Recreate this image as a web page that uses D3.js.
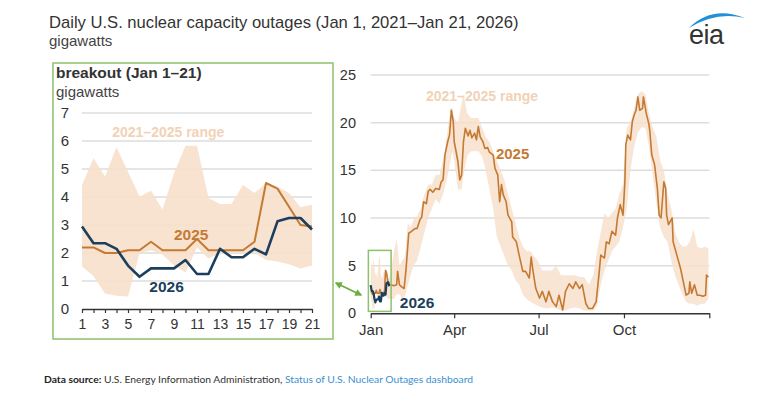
<!DOCTYPE html>
<html>
<head>
<meta charset="utf-8">
<script src="https://cdn.jsdelivr.net/npm/d3@7"></script>
<style>
  body { margin: 0; background: #fff; }
  svg { display: block; font-family: "Liberation Sans", Arial, sans-serif; }
</style>
</head>
<body>
<div class="canvas"></div>
<script>
// breakout panel, Jan 1-21
const breakoutDays = [1, 2, 3, 4, 5, 6, 7, 8, 9, 10, 11, 12, 13, 14, 15, 16, 17, 18, 19, 20, 21];
const breakout2025 = [2.2, 2.2, 2.0, 2.0, 2.1, 2.1, 2.4, 2.1, 2.1, 2.1, 2.5, 2.1, 2.1, 2.1, 2.1, 2.4, 4.5, 4.3, 3.65, 3.0, 2.95];
const breakout2026 = [2.95, 2.35, 2.35, 2.15, 1.55, 1.15, 1.45, 1.45, 1.45, 1.75, 1.25, 1.25, 2.15, 1.85, 1.85, 2.15, 1.95, 3.13, 3.25, 3.25, 2.84];
const breakoutHi = [4.43, 5.38, 4.73, 5.79, 4.9, 4.02, 4.22, 3.55, 4.85, 5.83, 5.83, 3.96, 3.75, 3.75, 4.43, 4.14, 4.49, 4.37, 4.14, 3.63, 3.72];
const breakoutLo = [1.52, 1.18, 0.55, 0.47, 0.45, 2.0, 2.1, 1.95, 1.55, 1.3, 2.2, 1.8, 2.0, 2.0, 2.0, 2.0, 1.75, 1.7, 1.6, 1.45, 1.55];

// full year panel, day of year (0 = Jan 1), readings after the breakout window
const yearDays2025 = [22, 25, 28, 29, 31, 33, 36, 38, 41, 44, 48, 50, 53, 55, 57, 60, 62, 64, 67, 70, 74, 76, 78, 80, 83, 85, 87, 89, 90, 92, 94, 96, 98, 100, 102, 105, 107, 109, 112, 114, 116, 118, 121, 123, 126, 128, 132, 134, 137, 139, 141, 143, 146, 148, 152, 153, 157, 160, 164, 167, 171, 173, 175, 178, 182, 185, 189, 192, 196, 200, 203, 207, 210, 214, 218, 221, 225, 228, 232, 235, 239, 243, 246, 248, 252, 254, 257, 260, 264, 266, 269, 272, 274, 275, 277, 280, 282, 284, 286, 288, 290, 293, 294, 297, 300, 301, 303, 306, 309, 311, 313, 316, 318, 319, 321, 325, 326, 330, 334, 337, 340, 343, 344, 346, 349, 352, 355, 358, 361, 362, 364];
const year2025 = [3.0, 2.9, 3.0, 4.4, 3.0, 2.8, 2.6, 4.5, 8.4, 8.6, 8.9, 8.9, 9.8, 10.1, 11.7, 11.5, 12.8, 13.0, 12.7, 13.1, 13.0, 13.8, 14.0, 16.6, 18.0, 18.7, 21.3, 20.1, 18.0, 17.0, 15.9, 14.0, 14.5, 18.0, 19.4, 18.6, 19.2, 18.4, 18.9, 18.2, 19.6, 18.5, 18.0, 17.3, 17.4, 16.9, 16.6, 15.2, 14.5, 11.7, 13.5, 12.4, 11.7, 10.3, 9.6, 8.0, 7.5, 6.1, 4.4, 4.4, 3.7, 5.9, 4.4, 2.6, 1.6, 2.3, 1.2, 2.3, 1.2, 0.7, 1.9, 0.35, 2.3, 3.1, 2.6, 3.3, 2.6, 3.0, 1.0, 0.5, 0.5, 1.2, 4.0, 6.1, 5.8, 7.5, 7.3, 8.6, 8.2, 10.0, 11.4, 10.3, 13.8, 17.7, 18.7, 18.2, 20.1, 20.8, 21.3, 22.7, 21.3, 21.5, 22.7, 21.0, 19.8, 19.0, 16.6, 15.6, 13.1, 10.3, 10.0, 13.8, 13.1, 10.3, 9.3, 10.0, 7.5, 6.1, 4.7, 3.3, 1.9, 2.1, 3.3, 2.1, 3.0, 1.9, 1.9, 1.8, 1.9, 4.0, 3.8];
const bandDays = [22, 25, 28, 31, 34, 37, 40, 43, 46, 50, 54, 58, 62, 66, 70, 74, 78, 82, 86, 88, 90, 94, 98, 100, 104, 108, 112, 116, 120, 124, 128, 132, 136, 140, 144, 148, 152, 156, 160, 164, 168, 172, 176, 180, 185, 190, 195, 200, 205, 210, 215, 220, 225, 230, 235, 240, 244, 248, 252, 256, 260, 264, 268, 272, 276, 280, 284, 288, 292, 296, 300, 304, 308, 312, 316, 320, 324, 328, 332, 336, 340, 344, 348, 352, 356, 360, 364];
const bandHi = [4.5, 6.5, 7.8, 5.0, 5.5, 6.0, 9.5, 9.0, 9.8, 10.2, 11.0, 12.5, 13.5, 13.5, 14.5, 14.5, 16.0, 18.5, 21.5, 21.5, 20.5, 20.0, 22.0, 23.0, 21.0, 20.5, 20.5, 20.5, 19.5, 18.5, 18.0, 17.0, 16.0, 15.0, 14.0, 12.5, 11.0, 9.5, 8.0, 7.0, 6.5, 6.5, 6.0, 5.5, 4.5, 4.5, 4.5, 5.0, 4.0, 4.0, 4.0, 4.0, 3.8, 3.8, 3.0, 4.0, 6.5, 8.5, 10.5, 10.0, 10.5, 11.0, 12.5, 13.5, 19.5, 20.0, 21.5, 23.0, 23.3, 23.0, 21.0, 19.5, 18.5, 16.0, 15.0, 12.5, 11.0, 8.5, 7.5, 7.0, 7.0, 7.5, 8.8, 7.0, 6.8, 7.0, 6.8];
const bandLo = [1.5, 1.5, 2.0, 2.0, 1.5, 1.8, 3.0, 4.0, 5.0, 5.5, 7.0, 8.5, 10.0, 11.0, 12.0, 11.5, 12.5, 14.0, 16.0, 17.0, 16.0, 13.0, 13.0, 14.5, 16.5, 17.0, 17.0, 17.0, 16.5, 15.0, 13.0, 11.0, 8.0, 7.0, 6.0, 5.0, 4.5, 3.5, 3.0, 2.0, 1.5, 1.2, 1.0, 0.8, 0.6, 0.5, 0.6, 0.5, 0.3, 0.3, 0.5, 0.6, 0.5, 0.3, 0.3, 0.3, 0.8, 3.0, 4.5, 5.5, 6.5, 7.0, 7.5, 9.0, 11.0, 15.0, 17.5, 19.0, 19.5, 19.5, 17.5, 14.5, 11.5, 9.0, 8.0, 7.5, 5.5, 4.0, 3.0, 2.0, 1.2, 1.0, 1.0, 0.8, 1.0, 1.0, 1.5];

const quarterDays = [0, 90, 181, 273, 365];
const quarterLabels = ['Jan', 'Apr', 'Jul', 'Oct', ''];
const leftTicks = [0, 1, 2, 3, 4, 5, 6, 7];
const rightTicks = [0, 5, 10, 15, 20, 25];

const colours = {
  band: '#f7e0cc',
  bandText: '#f1d2b6',
  y2025: '#c57a33',
  y2026: '#1c3f5d',
  grid: '#dddddd',
  axis: '#333',
  green: '#8cc26c',
  arrow: '#6bad3f',
};

const svg = d3.select('.canvas').append('svg').attr('width', 768).attr('height', 403);

// header
svg.append('text').attr('x', 49).attr('y', 28)
  .attr('font-size', 16.6).attr('fill', '#333')
  .text('Daily U.S. nuclear capacity outages (Jan 1, 2021\u2013Jan 21, 2026)');
svg.append('text').attr('x', 49).attr('y', 46)
  .attr('font-size', 15).attr('fill', '#444').text('gigawatts');

// eia logo
svg.append('path')
  .attr('d', 'M689,28 Q712,5 745,18 Q716,11 689,28 Z')
  .attr('fill', '#2190d8');
svg.append('text').attr('x', 689).attr('y', 44)
  .attr('font-size', 27).attr('fill', '#333').attr('letter-spacing', -0.5)
  .text('eia');

// ---------- left breakout panel ----------
const xL = d3.scaleLinear().domain([1, 21]).range([82, 312]);
const yL = d3.scaleLinear().domain([0, 7]).range([309, 113]);

svg.append('rect')
  .attr('x', 53).attr('y', 63).attr('width', 280).attr('height', 276)
  .attr('fill', 'none').attr('stroke', colours.green).attr('stroke-width', 1.5);

svg.append('text').attr('x', 56).attr('y', 78)
  .attr('font-size', 15.5).attr('font-weight', 'bold').attr('fill', '#333')
  .text('breakout (Jan 1\u201321)');
svg.append('text').attr('x', 56).attr('y', 97)
  .attr('font-size', 15).attr('fill', '#444').text('gigawatts');

const left = svg.append('g');

left.selectAll('line.grid')
  .data(leftTicks.slice(1))
  .enter().append('line')
  .attr('class', 'grid')
  .attr('x1', xL(1)).attr('x2', xL(21))
  .attr('y1', (d) => yL(d)).attr('y2', (d) => yL(d))
  .attr('stroke', colours.grid).attr('stroke-width', 1.5);

const breakout = breakoutDays.map((d, i) => ({
  day: d, hi: breakoutHi[i], lo: breakoutLo[i], v25: breakout2025[i], v26: breakout2026[i],
}));

left.append('path')
  .datum(breakout)
  .attr('fill', colours.band).attr('opacity', 0.92)
  .attr('d', d3.area().x((d) => xL(d.day)).y0((d) => yL(d.lo)).y1((d) => yL(d.hi)));

left.append('path')
  .datum(breakout)
  .attr('fill', 'none').attr('stroke', colours.y2025).attr('stroke-width', 2)
  .attr('stroke-linejoin', 'round')
  .attr('d', d3.line().x((d) => xL(d.day)).y((d) => yL(d.v25)));

left.append('path')
  .datum(breakout)
  .attr('fill', 'none').attr('stroke', colours.y2026).attr('stroke-width', 2.6)
  .attr('stroke-linejoin', 'round')
  .attr('d', d3.line().x((d) => xL(d.day)).y((d) => yL(d.v26)));

left.append('text').attr('x', xL(8.5)).attr('y', yL(6.32)).attr('dy', '0.35em')
  .attr('text-anchor', 'middle').attr('font-size', 14).attr('font-weight', 'bold')
  .attr('fill', colours.bandText).text('2021\u20132025 range');
left.append('text').attr('x', xL(10.5)).attr('y', yL(2.65)).attr('dy', '0.35em')
  .attr('text-anchor', 'middle').attr('font-size', 15.5).attr('font-weight', 'bold')
  .attr('fill', colours.y2025).text('2025');
left.append('text').attr('x', xL(8.35)).attr('y', yL(0.8)).attr('dy', '0.35em')
  .attr('text-anchor', 'middle').attr('font-size', 15.5).attr('font-weight', 'bold')
  .attr('fill', colours.y2026).text('2026');

// left axes
left.append('g')
  .attr('transform', `translate(0, ${yL(0)})`)
  .call(d3.axisBottom(xL).tickValues(breakoutDays).tickSize(4).tickSizeOuter(0)
    .tickFormat((d) => (d % 2 === 1 ? d : '')))
  .call((g) => {
    g.select('.domain').attr('stroke', colours.axis).attr('stroke-width', 1.5);
    g.selectAll('.tick line').attr('stroke', colours.axis).attr('stroke-width', 1.2);
    g.selectAll('.tick text').attr('font-size', 14).attr('fill', '#333')
      .attr('font-family', '"Liberation Sans", Arial, sans-serif').attr('y', 10);
  });

left.append('g')
  .attr('transform', 'translate(69, 0)')
  .call(d3.axisLeft(yL).tickValues(leftTicks).tickFormat(d3.format('d')).tickSize(0).tickPadding(0))
  .call((g) => {
    g.select('.domain').remove();
    g.selectAll('.tick text').attr('font-size', 15).attr('fill', '#333')
      .attr('font-family', '"Liberation Sans", Arial, sans-serif');
  });

// ---------- right full-year panel ----------
const xR = d3.scaleLinear().domain([0, 365]).range([370.7, 709.3]);
const yR = d3.scaleLinear().domain([0, 25]).range([313.3, 75]);

const right = svg.append('g');

right.selectAll('line.grid')
  .data(rightTicks.slice(1))
  .enter().append('line')
  .attr('class', 'grid')
  .attr('x1', xR(0)).attr('x2', xR(365))
  .attr('y1', (d) => yR(d)).attr('y2', (d) => yR(d))
  .attr('stroke', colours.grid).attr('stroke-width', 1.5);

const yearBand = breakout.map((d) => ({ day: d.day - 1, hi: d.hi, lo: d.lo }))
  .concat(bandDays.map((d, i) => ({ day: d, hi: bandHi[i], lo: bandLo[i] })));
const yearLine = breakout.map((d) => ({ day: d.day - 1, v: d.v25 }))
  .concat(yearDays2025.map((d, i) => ({ day: d, v: year2025[i] })));
const year26 = breakout.map((d) => ({ day: d.day - 1, v: d.v26 }));

right.append('path')
  .datum(yearBand)
  .attr('fill', colours.band).attr('opacity', 0.85)
  .attr('d', d3.area().x((d) => xR(d.day)).y0((d) => yR(d.lo)).y1((d) => yR(d.hi)));

right.append('path')
  .datum(yearLine)
  .attr('fill', 'none').attr('stroke', colours.y2025).attr('stroke-width', 1.6)
  .attr('stroke-linejoin', 'round')
  .attr('d', d3.line().x((d) => xR(d.day)).y((d) => yR(d.v)));

right.append('path')
  .datum(year26)
  .attr('fill', 'none').attr('stroke', colours.y2026).attr('stroke-width', 2.2)
  .attr('stroke-linejoin', 'round')
  .attr('d', d3.line().x((d) => xR(d.day)).y((d) => yR(d.v)));

// small zoom box on the right chart
right.append('rect')
  .attr('x', xR(-2.5)).attr('y', yR(6.6))
  .attr('width', xR(22) - xR(-2.5)).attr('height', yR(0.2) - yR(6.6))
  .attr('fill', 'none').attr('stroke', colours.green).attr('stroke-width', 1.5);

right.append('text').attr('x', xR(120)).attr('y', yR(22.8)).attr('dy', '0.35em')
  .attr('text-anchor', 'middle').attr('font-size', 14).attr('font-weight', 'bold')
  .attr('fill', colours.bandText).text('2021\u20132025 range');
right.append('text').attr('x', xR(153)).attr('y', yR(16.7)).attr('dy', '0.35em')
  .attr('text-anchor', 'middle').attr('font-size', 15).attr('font-weight', 'bold')
  .attr('fill', colours.y2025).text('2025');
right.append('text').attr('x', xR(50)).attr('y', yR(1.1)).attr('dy', '0.35em')
  .attr('text-anchor', 'middle').attr('font-size', 15.5).attr('font-weight', 'bold')
  .attr('fill', colours.y2026).text('2026');

right.append('g')
  .attr('transform', `translate(0, ${yR(0)})`)
  .call(d3.axisBottom(xR).tickValues(quarterDays).tickSize(5).tickSizeOuter(0)
    .tickFormat((d, i) => quarterLabels[i]))
  .call((g) => {
    g.select('.domain').attr('stroke', colours.axis).attr('stroke-width', 1.5);
    g.selectAll('.tick line').attr('stroke', colours.axis).attr('stroke-width', 1.2);
    g.selectAll('.tick text').attr('font-size', 15).attr('fill', '#333')
      .attr('font-family', '"Liberation Sans", Arial, sans-serif').attr('y', 11);
  });

right.append('g')
  .attr('transform', 'translate(356, 0)')
  .call(d3.axisLeft(yR).tickValues(rightTicks).tickSize(0).tickPadding(0))
  .call((g) => {
    g.select('.domain').remove();
    g.selectAll('.tick text').attr('font-size', 14.5).attr('fill', '#333')
      .attr('font-family', '"Liberation Sans", Arial, sans-serif');
  });

// connector arrow between the two boxes
const defs = svg.append('defs');
defs.append('marker')
  .attr('id', 'head').attr('viewBox', '0 0 10 10')
  .attr('refX', 8).attr('refY', 5)
  .attr('markerWidth', 4).attr('markerHeight', 4)
  .attr('orient', 'auto-start-reverse')
  .append('path').attr('d', 'M0,0 L10,5 L0,10 Z').attr('fill', colours.arrow);

svg.append('line')
  .attr('x1', 336).attr('y1', 283).attr('x2', 361).attr('y2', 295)
  .attr('stroke', colours.arrow).attr('stroke-width', 1.8)
  .attr('marker-start', 'url(#head)').attr('marker-end', 'url(#head)');

// footer
const foot = svg.append('text').attr('x', 44).attr('y', 383)
  .attr('font-family', 'Lato, "Open Sans", sans-serif').attr('font-size', 10.3);
foot.append('tspan').attr('font-weight', 'bold').attr('fill', '#222').text('Data source:');
foot.append('tspan').attr('fill', '#333').text(' U.S. Energy Information Administration, ');
foot.append('tspan').attr('fill', '#3d8fcf').text('Status of U.S. Nuclear Outages dashboard');
</script>
</body>
</html>
